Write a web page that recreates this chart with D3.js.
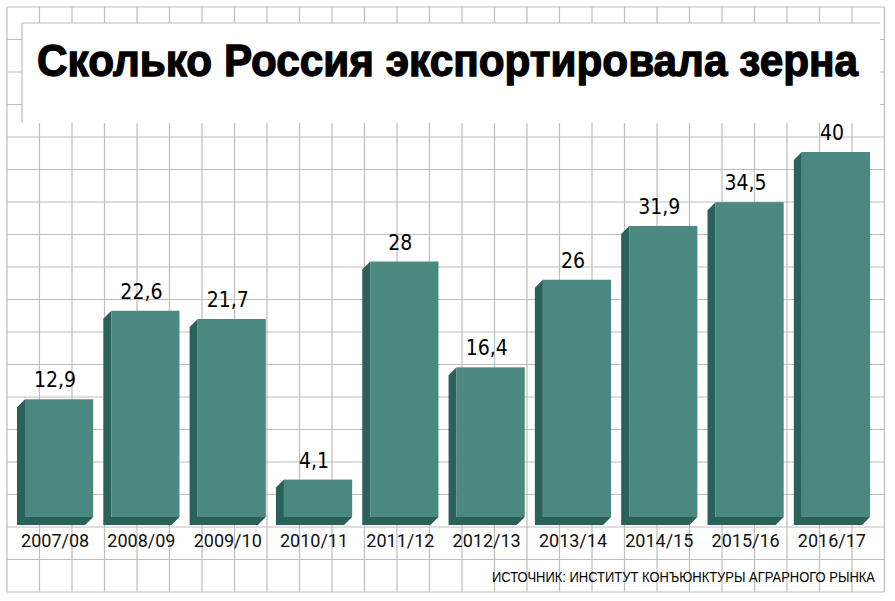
<!DOCTYPE html>
<html><head><meta charset="utf-8">
<script src="https://cdn.jsdelivr.net/npm/d3@7"></script>
<style>body{margin:0;background:#fff}</style>
</head><body>
<script>
'use strict';
const seasons = ['2007/08','2008/09','2009/10','2010/11','2011/12','2012/13','2013/14','2014/15','2015/16','2016/17'];
const exports = [12.9, 22.6, 21.7, 4.1, 28, 16.4, 26, 31.9, 34.5, 40];
const title = 'Сколько Россия экспортировала зерна';
const source = 'ИСТОЧНИК: ИНСТИТУТ КОНЪЮНКТУРЫ АГРАРНОГО РЫНКА';

const width = 895, height = 601;
const svg = d3.select('body').append('svg').attr('width', width).attr('height', height);

//Background grid of squares.
const step = 32.5, gx0 = 7, gy0 = 7, nx = 27, ny = 18;
const grid = svg.append('g').attr('stroke', '#bdbdbd').attr('stroke-width', 1.2);
d3.range(nx + 1).forEach(i => {
	grid.append('line').attr('x1', gx0 + i * step).attr('x2', gx0 + i * step).attr('y1', gy0).attr('y2', gy0 + ny * step);
});
d3.range(ny + 1).forEach(i => {
	grid.append('line').attr('y1', gy0 + i * step).attr('y2', gy0 + i * step).attr('x1', gx0).attr('x2', gx0 + nx * step);
});

//Title box.
svg.append('rect').attr('x', 22).attr('y', 23).attr('width', 858).attr('height', 100).attr('fill', '#fff');
svg.append('line').attr('x1', 22).attr('x2', 22).attr('y1', 23).attr('y2', 123).attr('stroke', '#bdbdbd').attr('stroke-width', 1.2);
svg.append('line').attr('x1', 22).attr('x2', 880).attr('y1', 23).attr('y2', 23).attr('stroke', '#bdbdbd').attr('stroke-width', 1.2);
svg.append('text').attr('x', 37).attr('y', 76)
	.attr('textLength', 821).attr('lengthAdjust', 'spacingAndGlyphs')
	.style('font-family', '"Liberation Sans Narrow", "Liberation Sans", sans-serif')
	.style('font-weight', 'bold').style('font-size', '44px')
	.attr('stroke', '#000').attr('stroke-width', 1.3).text(title);

//Scales.
const xScale = d3.scaleBand().domain(seasons).range([25, 870]).paddingInner(0.21).paddingOuter(0);
const yScale = d3.scaleLinear().domain([0, 40]).range([517, 152]);
const depth = 8;

const bars = svg.append('g').selectAll('g').data(seasons).enter().append('g');
//Extruded side (left + bottom).
bars.append('path')
	.attr('fill', '#2b615b')
	.attr('d', (d, i) => {
		const x = xScale(d), w = xScale.bandwidth(), yt = yScale(exports[i]), yb = yScale(0);
		return `M${x},${yt} L${x - depth},${yt + depth} L${x - depth},${yb + depth} L${x + w - depth},${yb + depth} L${x + w},${yb} L${x},${yb} Z`;
	});
bars.append('rect')
	.attr('fill', '#4a8880')
	.attr('x', d => xScale(d))
	.attr('width', xScale.bandwidth())
	.attr('y', (d, i) => yScale(exports[i]))
	.attr('height', (d, i) => yScale(0) - yScale(exports[i]));
bars.append('text')
	.attr('x', d => xScale(d) + xScale.bandwidth() / 2 - 4)
	.attr('y', (d, i) => yScale(exports[i]) - 12)
	.attr('text-anchor', 'middle')
	.style('font-family', '"DejaVu Sans Condensed", "DejaVu Sans", sans-serif')
	.style('font-size', '21px').style('font-weight', 'normal')
	.text((d, i) => String(exports[i]).replace('.', ','));

//Category axis labels.
const xAxis = d3.axisBottom(xScale).tickSize(0).tickPadding(0);
const ax = svg.append('g').attr('transform', `translate(-4, ${yScale(0) + 17})`).call(xAxis);
ax.select('.domain').remove();
ax.selectAll('text')
	.attr('dy', '0.71em')
	.style('font-family', 'Roboto, sans-serif').style('font-size', '18px').attr('fill', '#111');

svg.append('text').attr('x', 875).attr('y', 582).attr('text-anchor', 'end')
	.style('font-family', '"Liberation Sans Narrow", sans-serif').style('font-size', '15px')
	.attr('textLength', 383).attr('lengthAdjust', 'spacingAndGlyphs')
	.text(source);
</script>
</body></html>
